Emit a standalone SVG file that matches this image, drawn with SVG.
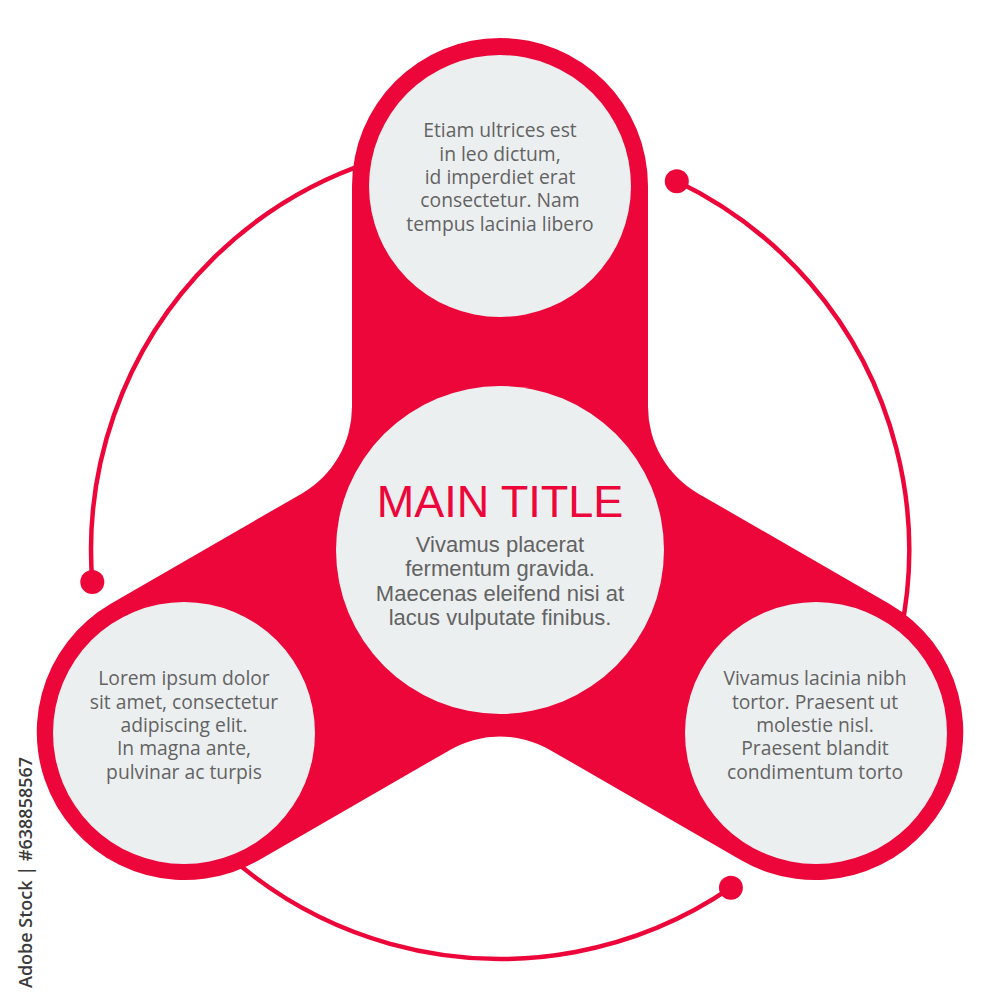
<svg xmlns="http://www.w3.org/2000/svg" width="1000" height="1000" viewBox="0 0 1000 1000">
<style>
.red{fill:#EC063A}
.disc{fill:#ECEFF0}
.ring{fill:none;stroke:#EC063A;stroke-width:4.5}
.dot{fill:#EC063A}
.body{font-family:"Open Sans","Noto Sans","DejaVu Sans",sans-serif;font-size:19.3px;fill:#636363;text-anchor:middle}
.cbody{font-family:"Liberation Sans",Arial,sans-serif;font-size:22px;fill:#636363;text-anchor:middle}
.title{font-family:"Liberation Sans",Arial,sans-serif;font-size:45px;fill:#EC063A;text-anchor:middle}
.wm{font-family:"Open Sans","Noto Sans",sans-serif;font-size:18px;font-weight:600;fill:#3a3a3a}
</style>
<rect width="1000" height="1000" fill="#ffffff"/>
<g id="connectors">
<path class="ring" d="M 92.3 582.1 A 409 409 0 0 1 539.2 142.9"/>
<path class="ring" d="M 676.8 181.2 A 409 409 0 0 1 832.8 788.1"/>
<path class="ring" d="M 730.9 887.7 A 409 409 0 0 1 127.9 719.1"/>
<circle class="dot" cx="92.3" cy="582.1" r="12"/>
<circle class="dot" cx="676.8" cy="181.2" r="12"/>
<circle class="dot" cx="730.9" cy="887.7" r="12"/>
</g>
<g id="spinner">
<path class="red" d="M 352 186 A 148 148 0 0 1 648 186 L 648 406.8 A 100 100 0 0 0 698 493.4 L 889.2 603.8 A 148 148 0 1 1 741.2 860.2 L 550 749.9 A 100 100 0 0 0 450 749.9 L 258.8 860.2 A 148 148 0 1 1 110.8 603.8 L 302 493.4 A 100 100 0 0 0 352 406.8 Z"/>
</g>
<g id="node-top">
<circle class="disc" cx="500" cy="186" r="131"/>
<text class="body" x="500" y="137">Etiam ultrices est</text>
<text class="body" x="500" y="160.5">in leo dictum,</text>
<text class="body" x="500" y="184">id imperdiet erat</text>
<text class="body" x="500" y="207">consectetur. Nam</text>
<text class="body" x="500" y="230.5">tempus lacinia libero</text>
</g>
<g id="node-left">
<circle class="disc" cx="184" cy="733" r="131"/>
<text class="body" x="184" y="685">Lorem ipsum dolor</text>
<text class="body" x="184" y="708.5">sit amet, consectetur</text>
<text class="body" x="184" y="732">adipiscing elit.</text>
<text class="body" x="184" y="755">In magna ante,</text>
<text class="body" x="184" y="778.5">pulvinar ac turpis</text>
</g>
<g id="node-right">
<circle class="disc" cx="816" cy="733" r="131"/>
<text class="body" x="815" y="685">Vivamus lacinia nibh</text>
<text class="body" x="815" y="708.5">tortor. Praesent ut</text>
<text class="body" x="815" y="732">molestie nisl.</text>
<text class="body" x="815" y="755">Praesent blandit</text>
<text class="body" x="815" y="778.5">condimentum torto</text>
</g>
<g id="node-center">
<circle class="disc" cx="500" cy="550" r="164"/>
<text class="title" x="500" y="517">MAIN TITLE</text>
<text class="cbody" x="500" y="552">Vivamus placerat</text>
<text class="cbody" x="500" y="576">fermentum gravida.</text>
<text class="cbody" x="500" y="600.5">Maecenas eleifend nisi at</text>
<text class="cbody" x="500" y="625">lacus vulputate finibus.</text>
</g>
<text class="wm" transform="translate(32 988) rotate(-90)">Adobe Stock | #638858567</text>
</svg>
